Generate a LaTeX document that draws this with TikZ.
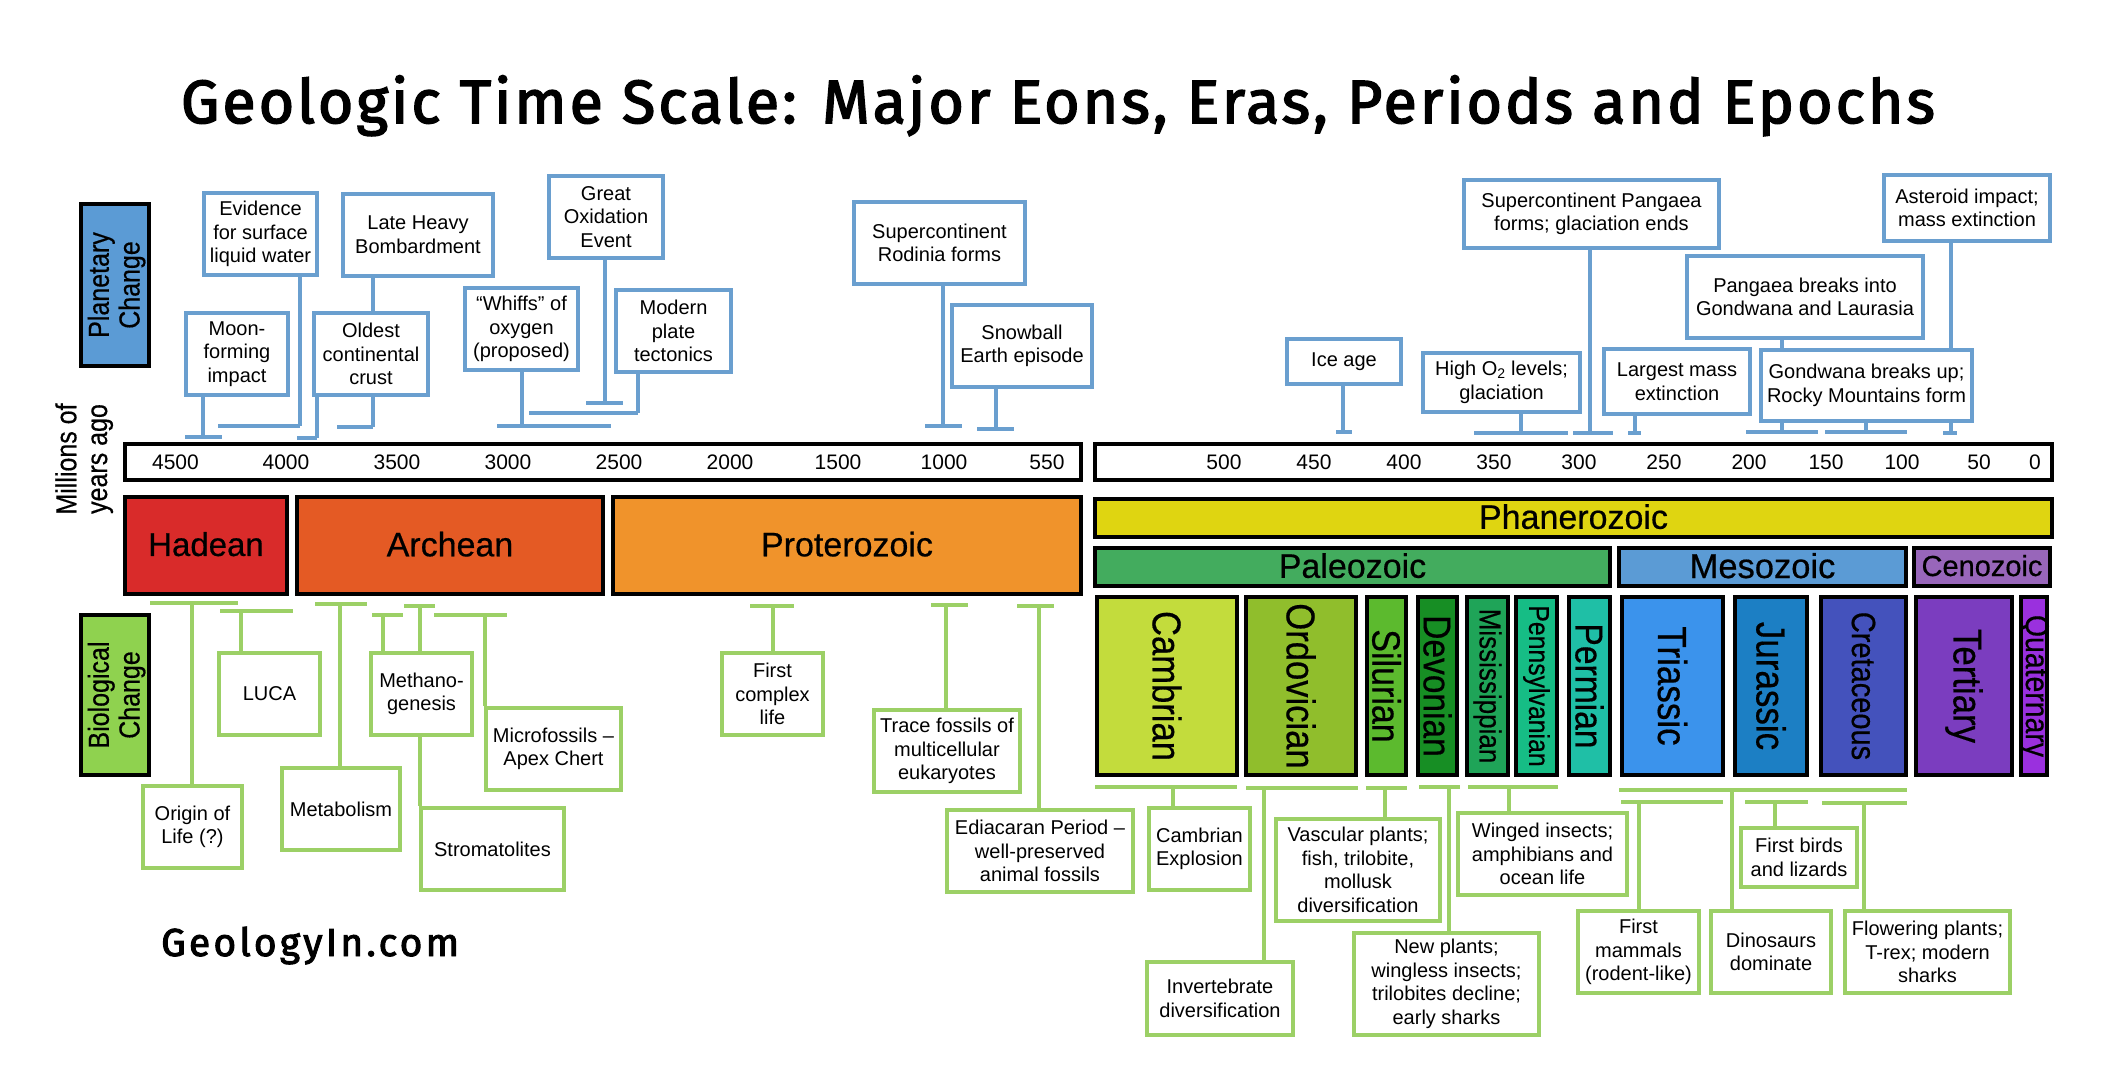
\documentclass[tikz,border=0pt]{standalone}
\usepackage{fontspec}
\setmainfont{Liberation Sans}
\newfontfamily\titlefont[LetterSpace=4.9,FakeBold=2.5]{Fira Sans}
\newfontfamily\markfont[LetterSpace=8.2,FakeBold=2.5]{Fira Sans}
\newfontfamily\erafont[FakeBold=0.5]{Liberation Sans}
\definecolor{cblue}{HTML}{6A9FCF}
\definecolor{cgreen}{HTML}{9CD066}
\definecolor{fplanet}{HTML}{5B9BD5}
\definecolor{fbio}{HTML}{8FD24F}
\definecolor{chadean}{HTML}{D92B2A}
\definecolor{carchean}{HTML}{E45A24}
\definecolor{cprot}{HTML}{F0932B}
\definecolor{cphan}{HTML}{DFD511}
\definecolor{cpaleo}{HTML}{43AC5E}
\definecolor{cmeso}{HTML}{5B9BD5}
\definecolor{cceno}{HTML}{9866BA}
\newcommand{\era}[2]{\fontsize{#1}{#1}\selectfont\erafont\raisebox{3pt}{#2}}
\newcommand{\rotlabel}[1]{\scalebox{1}[1.16]{\begin{tabular}{@{}c@{}}#1\end{tabular}}}
\tikzset{
  blueline/.style={draw=cblue,line width=4pt},
  greenline/.style={draw=cgreen,line width=3.6pt},
  evbox/.style={rectangle,fill=white,inner sep=0pt,align=center,font=\fontsize{20}{23.6}\selectfont},
  planetbox/.style={evbox,draw=cblue,line width=4pt},
  biobox/.style={evbox,draw=cgreen,line width=4pt},
  blackbox/.style={rectangle,draw=black,line width=3.2pt,inner sep=0pt,align=center},
  ticklabel/.style={font=\fontsize{21}{21}\selectfont,inner sep=0pt},
  sidelabel/.style={rotate=90,inner sep=0pt,font=\erafont\fontsize{25}{26.5}\selectfont},
  periodlabel/.style={rotate=-90,inner sep=0pt},
}
% style, name, x1, y1, x2, y2, text : the outer edges of the box are given
\newcommand{\bx}[7]{%
  \pgfmathsetmacro{\cxx}{(#3+#5)/2}\pgfmathsetmacro{\cyy}{(#4+#6)/2}%
  \pgfmathsetmacro{\wdd}{#5-#3-2}\pgfmathsetmacro{\htt}{#6-#4-2}%
  \node[#1,minimum width=\wdd pt,minimum height=\htt pt] (#2) at (\cxx,\cyy) {#7};}
% line style, name, start point, x, y of bar, bar x1, bar x2
\newcommand{\stm}[7]{%
  \coordinate (#2) at (#4,#5);\coordinate (#2L) at (#6,#5);\coordinate (#2R) at (#7,#5);
  \draw[#1] (#3 -| #2) -- (#2);
  \draw[#1] (#2L) -- (#2R);}
\begin{document}
\begin{tikzpicture}[x=1pt,y=-1pt]
\useasboundingbox (0,0) rectangle (2105,1073);
\fill[white] (0,0) rectangle (2105,1073);
\node[anchor=base,inner sep=0pt,font=\titlefont\fontsize{61}{61}\selectfont] (title) at (1058,123) {Geologic Time Scale: Major Eons, Eras, Periods and Epochs};
\node[anchor=base west,inner sep=0pt,font=\markfont\fontsize{39}{39}\selectfont] (mark) at (161,956) {GeologyIn.com};

% side labels
\bx{blackbox,fill=fplanet}{planet}{80}{203}{150}{367}{}
\node[sidelabel] (planetT) at (118,285) {\rotlabel{Planetary\\Change}};
\bx{blackbox,fill=fbio}{bio}{80}{614}{150}{776}{}
\node[sidelabel] (bioT) at (118,695) {\rotlabel{Biological\\Change}};
\node[sidelabel] (mya) at (85.5,459) {\rotlabel{Millions of\\years ago}};

% axis
\bx{blackbox,fill=white}{axisL}{124}{443}{1082}{481}{}
\bx{blackbox,fill=white}{axisR}{1094}{443}{2053}{481}{}
\foreach \n/\t/\xx in {a/4500/175.5,b/4000/286,c/3500/397,d/3000/508,e/2500/619,f/2000/730,g/1500/838,h/1000/944,i/550/1047,
  j/500/1224,k/450/1314,l/400/1404,m/350/1494,n/300/1579,o/250/1664,p/200/1749,q/150/1826,r/100/1902,s/50/1979,t/0/2035}
  \node[ticklabel] (tick\n) at (\xx,462) {\t};

% eons and eras
\bx{blackbox,fill=chadean}{hadean}{124}{496}{288}{595}{\era{33}{Hadean}}
\bx{blackbox,fill=carchean}{archean}{296}{496}{604}{595}{\era{34}{Archean}}
\bx{blackbox,fill=cprot}{proterozoic}{612}{496}{1082}{595}{\era{34}{Proterozoic}}
\bx{blackbox,fill=cphan}{phanerozoic}{1094}{498}{2053}{538}{\era{34}{Phanerozoic}}
\bx{blackbox,fill=cpaleo}{paleozoic}{1094}{547}{1611}{587}{\era{34}{Paleozoic}}
\bx{blackbox,fill=cmeso}{mesozoic}{1618}{547}{1907}{587}{\era{34.5}{Mesozoic}}
\bx{blackbox,fill=cceno}{cenozoic}{1913}{547}{2051}{587}{\era{29}{Cenozoic}}

% periods
\newcommand{\per}[6]{\definecolor{col#1}{HTML}{#4}\bx{blackbox,fill=col#1}{#1}{#2}{596}{#3}{776}{}
  \node[periodlabel,font=\erafont\fontsize{#5}{#5}\selectfont] (#1T) at (#1) {\scalebox{1}[1.16]{#6}};}
\per{cambrian}{1096}{1238}{C3DC3C}{34.6}{Cambrian}
\per{ordovician}{1245}{1357}{90BE2C}{34.6}{Ordovician}
\per{silurian}{1366}{1407}{5CBA2E}{34}{Silurian}
\per{devonian}{1417}{1458}{178E24}{33.5}{Devonian}
\per{mississippian}{1466}{1509}{1FA458}{26}{Mississippian}
\per{pennsylvanian}{1515}{1558}{16BD85}{24.8}{Pennsylvanian}
\per{permian}{1568}{1611}{1FBFA6}{33.6}{Permian}
\per{triassic}{1621}{1724}{3B93EC}{35}{Triassic}
\per{jurassic}{1734}{1808}{1C7FC4}{35}{Jurassic}
\per{cretaceous}{1820}{1907}{4452BC}{29}{Cretaceous}
\per{tertiary}{1915}{2013}{7B3DBF}{34.8}{Tertiary}
\per{quaternary}{2020}{2048}{9A30DE}{28.4}{Quaternary}

% planetary change boxes
\bx{planetbox}{evidence}{203}{192}{318}{276}{Evidence\\for surface\\liquid water}
\bx{planetbox}{lhb}{342}{193}{494}{277}{Late Heavy\\Bombardment}
\bx{planetbox}{goe}{548}{175}{664}{259}{Great\\Oxidation\\Event}
\bx{planetbox}{moon}{185}{312}{289}{396}{Moon-\\forming\\impact}
\bx{planetbox}{oldest}{313}{312}{429}{396}{Oldest\\continental\\crust}
\bx{planetbox}{whiffs}{464}{287}{579}{371}{“Whiffs” of\\oxygen\\(proposed)}
\bx{planetbox}{plate}{615}{289}{732}{373}{Modern\\plate\\tectonics}
\bx{planetbox}{rodinia}{853}{201}{1026}{285}{Supercontinent\\Rodinia forms}
\bx{planetbox}{snowball}{951}{304}{1093}{388}{Snowball\\Earth episode}
\bx{planetbox}{iceage}{1286}{338}{1402}{385}{Ice age}
\bx{planetbox}{higho}{1422}{352}{1581}{413}{High O\textsubscript{2} levels;\\glaciation}
\bx{planetbox}{pangaea}{1463}{179}{1720}{249}{Supercontinent Pangaea\\forms; glaciation ends}
\bx{planetbox}{largest}{1603}{348}{1751}{415}{Largest mass\\extinction}
\bx{planetbox}{breaks}{1686}{255}{1924}{339}{Pangaea breaks into\\Gondwana and Laurasia}
\bx{planetbox}{gondwana}{1760}{349}{1973}{422}{Gondwana breaks up;\\Rocky Mountains form}
\bx{planetbox}{asteroid}{1883}{174}{2051}{242}{Asteroid impact;\\mass extinction}

% planetary connectors
\stm{blueline}{sMoon}{moon.south}{203}{437}{185}{222}
\stm{blueline}{sEvid}{evidence.south}{300}{426}{218}{300}
\coordinate (sLhb) at (373,300);
\draw[blueline] (lhb.south -| sLhb) -- (oldest.north -| sLhb);
\stm{blueline}{sOldA}{oldest.south}{373}{427}{337}{373}
\stm{blueline}{sOldB}{oldest.south}{317}{438}{297}{317}
\stm{blueline}{sWhiff}{whiffs.south}{522}{426}{497}{611}
\stm{blueline}{sGoe}{goe.south}{605}{403}{586}{623}
\stm{blueline}{sPlate}{plate.south}{638}{413}{529}{638}
\stm{blueline}{sRod}{rodinia.south}{943}{426}{925}{962}
\stm{blueline}{sSnow}{snowball.south}{996}{429}{977}{1014}
\stm{blueline}{sIce}{iceage.south}{1343}{432}{1336}{1352}
\stm{blueline}{sHigh}{higho.south}{1521}{433}{1474}{1568}
\stm{blueline}{sPan}{pangaea.south}{1590}{433}{1573}{1613}
\stm{blueline}{sLarg}{largest.south}{1635}{433}{1628}{1641}
\coordinate (sBrk) at (1782,345);
\draw[blueline] (breaks.south -| sBrk) -- (gondwana.north -| sBrk);
\coordinate (sAst) at (1951,300);
\draw[blueline] (asteroid.south -| sAst) -- (gondwana.north -| sAst);
\stm{blueline}{sGonA}{gondwana.south}{1782}{432}{1746}{1818}
\stm{blueline}{sGonB}{gondwana.south}{1866}{432}{1825}{1907}
\stm{blueline}{sGonC}{gondwana.south}{1951}{433}{1943}{1957}

% biological change boxes
\bx{biobox}{origin}{142}{785}{243}{869}{Origin of\\Life (?)}
\bx{biobox}{luca}{218}{652}{321}{736}{LUCA}
\bx{biobox}{metab}{281}{767}{401}{851}{Metabolism}
\bx{biobox}{methano}{370}{652}{473}{736}{Methano-\\genesis}
\bx{biobox}{stroma}{420}{807}{565}{891}{Stromatolites}
\bx{biobox}{micro}{485}{707}{622}{791}{Microfossils –\\Apex Chert}
\bx{biobox}{complex}{721}{652}{824}{736}{First\\complex\\life}
\bx{biobox}{trace}{873}{709}{1021}{793}{Trace fossils of\\multicellular\\eukaryotes}
\bx{biobox}{ediacaran}{946}{809}{1134}{893}{Ediacaran Period –\\well-preserved\\animal fossils}
\bx{biobox}{explosion}{1148}{807}{1251}{891}{Cambrian\\Explosion}
\bx{biobox}{invert}{1146}{961}{1294}{1036}{Invertebrate\\diversification}
\bx{biobox}{vascular}{1275}{818}{1441}{922}{Vascular plants;\\fish, trilobite,\\mollusk\\diversification}
\bx{biobox}{newplants}{1353}{932}{1540}{1036}{New plants;\\wingless insects;\\trilobites decline;\\early sharks}
\bx{biobox}{winged}{1457}{812}{1628}{896}{Winged insects;\\amphibians and\\ocean life}
\bx{biobox}{mammals}{1577}{910}{1700}{994}{First\\mammals\\(rodent-like)}
\bx{biobox}{dinos}{1710}{910}{1832}{994}{Dinosaurs\\dominate}
\bx{biobox}{birds}{1740}{827}{1858}{888}{First birds\\and lizards}
\bx{biobox}{flowering}{1844}{910}{2011}{994}{Flowering plants;\\T-rex; modern\\sharks}

% biological connectors
\stm{greenline}{bOrigin}{origin.north}{192}{603}{150}{238}
\stm{greenline}{bLuca}{luca.north}{241}{611}{220}{293}
\stm{greenline}{bMetab}{metab.north}{340}{604}{315}{367}
\stm{greenline}{bMethA}{methano.north}{383}{615}{372}{403}
\stm{greenline}{bMethB}{methano.north}{420}{606}{404}{435}
\coordinate (bStr) at (420,760);
\draw[greenline] (methano.south -| bStr) -- (stroma.north -| bStr);
\stm{greenline}{bMicro}{micro.north}{485}{615}{434}{507}
\stm{greenline}{bCompl}{complex.north}{773}{606}{750}{794}
\stm{greenline}{bTrace}{trace.north}{946}{605}{931}{968}
\stm{greenline}{bEdia}{ediacaran.north}{1039}{606}{1017}{1054}
\stm{greenline}{bExpl}{explosion.north}{1173}{787}{1095}{1237}
\stm{greenline}{bInv}{invert.north}{1264}{788}{1246}{1358}
\stm{greenline}{bVasc}{vascular.north}{1385}{788}{1366}{1407}
\stm{greenline}{bNew}{newplants.north}{1449}{787}{1419}{1460}
\stm{greenline}{bWing}{winged.north}{1509}{787}{1468}{1558}
\stm{greenline}{bDino}{dinos.north}{1732}{790}{1619}{1907}
\stm{greenline}{bMamm}{mammals.north}{1639}{802}{1621}{1723}
\stm{greenline}{bBird}{birds.north}{1775}{802}{1745}{1808}
\stm{greenline}{bFlow}{flowering.north}{1864}{803}{1822}{1907}
\end{tikzpicture}
\end{document}
